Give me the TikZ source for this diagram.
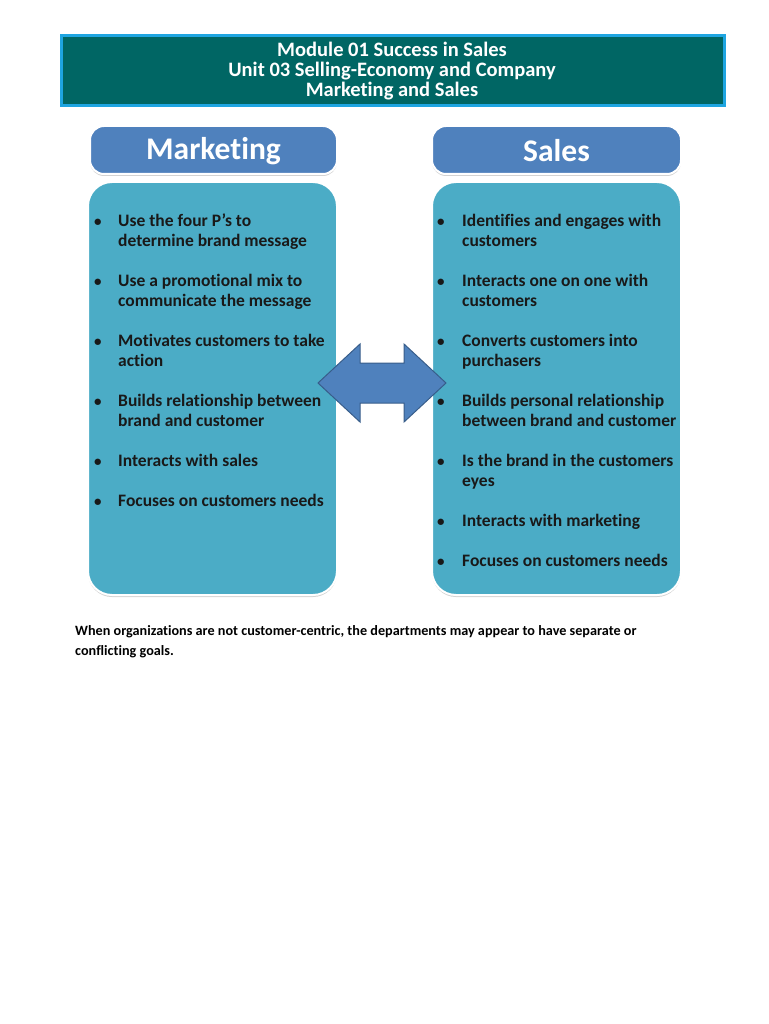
\documentclass[tikz,border=0pt]{standalone}
\usepackage{fontspec}
\setmainfont{Carlito}[Ligatures=NoCommon]
\usepackage{tikz}
\usetikzlibrary{positioning,shadows}
\definecolor{titleteal}{RGB}{0,102,100}
\definecolor{titleframe}{RGB}{30,165,225}
\definecolor{headblue}{RGB}{79,129,189}
\definecolor{bodycyan}{RGB}{75,172,198}
\definecolor{arrowline}{RGB}{56,93,138}
\definecolor{itemtext}{RGB}{25,25,25}

\begin{document}
\begin{tikzpicture}[
    x=1pt, y=-1pt,
    headbox/.style={draw=white, line width=2pt, fill=headblue, rounded corners=14pt,
      drop shadow={shadow xshift=0pt, shadow yshift=-2pt, opacity=0.35}},
    bodybox/.style={draw=white, line width=2pt, fill=bodycyan, rounded corners=24pt,
      drop shadow={shadow xshift=0pt, shadow yshift=-2pt, opacity=0.35}},
    item/.style={anchor=north west, align=left, inner sep=0pt, text=itemtext,
      font=\fontsize{17.5}{20}\selectfont\bfseries},
    dot/.style={anchor=north west, inner sep=0pt, text=itemtext,
      font=\fontsize{15}{20}\selectfont\bfseries},
  ]
    \useasboundingbox (0,0) rectangle (768,1024);

    % Title
    \draw[draw=titleframe, line width=3pt, fill=titleteal] (61,36) rectangle (724,106);
    \node[align=center, text=white, font=\fontsize{20.5}{20}\selectfont\bfseries] (title) at (392,71)
      {Module 01 Success in Sales\\Unit 03 Selling-Economy and Company\\Marketing and Sales};

    % Marketing
    \draw[headbox] (90,126) rectangle (337,174);
    \node[text=white, font=\fontsize{31.5}{32}\selectfont\bfseries] (mkthead) at (213.5,151) {Marketing};
    \draw[bodybox] (88,182) rectangle (337,595);
    \node[dot] at (94,212) {\strut\textbullet};
    \node[item] (m1) at (118,212) {\strut Use the four P’s to\\determine brand message};
    \node[dot] at (94,272) {\strut\textbullet};
    \node[item] (m2) at (118,272) {\strut Use a promotional mix to\\communicate the message};
    \node[dot] at (94,332) {\strut\textbullet};
    \node[item] (m3) at (118,332) {\strut Motivates customers to take\\action};
    \node[dot] at (94,392) {\strut\textbullet};
    \node[item] (m4) at (118,392) {\strut Builds relationship between\\brand and customer};
    \node[dot] at (94,452) {\strut\textbullet};
    \node[item] (m5) at (118,452) {\strut Interacts with sales};
    \node[dot] at (94,492) {\strut\textbullet};
    \node[item] (m6) at (118,492) {\strut Focuses on customers needs};

    % Sales
    \draw[headbox] (432,126) rectangle (681,174);
    \node[text=white, font=\fontsize{31.5}{32}\selectfont\bfseries] (salhead) at (556.5,151) {Sales};
    \draw[bodybox] (432,182) rectangle (681,595);
    \node[dot] at (437,212) {\strut\textbullet};
    \node[item] (s1) at (462,212) {\strut Identifies and engages with\\customers};
    \node[dot] at (437,272) {\strut\textbullet};
    \node[item] (s2) at (462,272) {\strut Interacts one on one with\\customers};
    \node[dot] at (437,332) {\strut\textbullet};
    \node[item] (s3) at (462,332) {\strut Converts customers into\\purchasers};
    \node[dot] at (437,392) {\strut\textbullet};
    \node[item] (s4) at (462,392) {\strut Builds personal relationship\\between brand and customer};
    \node[dot] at (437,452) {\strut\textbullet};
    \node[item] (s5) at (462,452) {\strut Is the brand in the customers\\eyes};
    \node[dot] at (437,512) {\strut\textbullet};
    \node[item] (s6) at (462,512) {\strut Interacts with marketing};
    \node[dot] at (437,552) {\strut\textbullet};
    \node[item] (s7) at (462,552) {\strut Focuses on customers needs};

    % Double arrow
    \draw[draw=arrowline, line width=1pt, fill=headblue]
      (318,383) -- (360,344) -- (360,363) -- (404,363) -- (404,344) -- (446,383)
      -- (404,422) -- (404,403) -- (360,403) -- (360,422) -- cycle;

    % Note
    \node[anchor=north west, align=left, inner sep=0pt, font=\fontsize{14.2}{20}\selectfont\bfseries] (note) at (75,621)
      {\strut When organizations are not customer-centric, the departments may appear to have separate or\\conflicting goals.};
  \end{tikzpicture}
\end{document}
